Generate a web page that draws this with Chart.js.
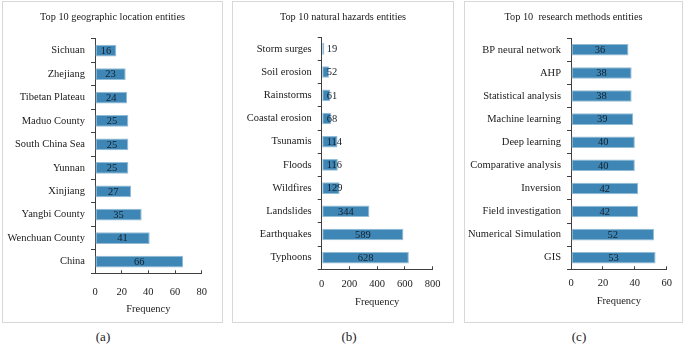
<!DOCTYPE html>
<html>
<head>
<meta charset="utf-8">
<script src="https://cdn.jsdelivr.net/npm/chart.js@4/dist/chart.umd.min.js"></script>
<style>
  html, body { margin: 0; padding: 0; background: #fff; }
  body { width: 685px; height: 347px; position: relative; overflow: hidden; }
  .frame { position: absolute; box-sizing: border-box; border: 1px solid #d8d8d8; }
  .box { position: absolute; }
  .cap { position: absolute; top: 329px; font: 13px "Liberation Serif", serif; color: #1a1a1a; transform: translateX(-50%); }
</style>
</head>
<body>
<div class="frame" style="left:2px;top:1px;width:221px;height:322px"></div>
<div class="frame" style="left:232px;top:1px;width:222px;height:322px"></div>
<div class="frame" style="left:464px;top:1px;width:219px;height:322px"></div>
<div class="box" style="left:2px;top:1px;width:221px;height:322px"><canvas id="chartA"></canvas></div>
<div class="box" style="left:232px;top:1px;width:222px;height:322px"><canvas id="chartB"></canvas></div>
<div class="box" style="left:464px;top:1px;width:219px;height:322px"><canvas id="chartC"></canvas></div>
<div class="cap" style="left:103px">(a)</div>
<div class="cap" style="left:349px">(b)</div>
<div class="cap" style="left:579px">(c)</div>
<script>
// (a) geographic locations
const locLabels = ['Sichuan', 'Zhejiang', 'Tibetan Plateau', 'Maduo County', 'South China Sea', 'Yunnan', 'Xinjiang', 'Yangbi County', 'Wenchuan County', 'China'];
const locValues = [16, 23, 24, 25, 25, 25, 27, 35, 41, 66];

// (b) natural hazards
const hazLabels = ['Storm surges', 'Soil erosion', 'Rainstorms', 'Coastal erosion', 'Tsunamis', 'Floods', 'Wildfires', 'Landslides', 'Earthquakes', 'Typhoons'];
const hazValues = [19, 52, 61, 68, 114, 116, 129, 344, 589, 628];

// (c) research methods
const methLabels = ['BP neural network', 'AHP', 'Statistical analysis', 'Machine learning', 'Deep learning', 'Comparative analysis', 'Inversion', 'Field investigation', 'Numerical Simulation', 'GIS'];
const methValues = [36, 38, 38, 39, 40, 40, 42, 42, 52, 53];

const FONT = '"Liberation Serif", "Times New Roman", serif';
const INK = '#1a1a1a';

// numbers on the bars, centred; pushed right of the axis when the bar is too short
const barValues = {
    id: 'barValues',
    afterDatasetsDraw(chart) {
        const { ctx, chartArea: { left } } = chart;
        const meta = chart.getDatasetMeta(0);
        const vals = chart.data.datasets[0].data;
        ctx.save();
        ctx.font = '10.5px ' + FONT;
        ctx.fillStyle = '#15202b';
        ctx.textAlign = 'center';
        ctx.textBaseline = 'middle';
        meta.data.forEach((bar, i) => {
            const txt = String(vals[i]);
            const w = ctx.measureText(txt).width;
            let cx = (bar.x + bar.base) / 2;
            cx = Math.max(cx, left + 5 + w / 2);
            ctx.fillText(txt, cx, bar.y + 0.5);
        });
        ctx.restore();
    }
};

function makeChart(id, title, labels, values, max, step, g) {
    return new Chart(document.getElementById(id), {
        type: 'bar',
        data: {
            labels: labels,
            datasets: [{
                data: values,
                backgroundColor: '#3D86B5',
                borderColor: '#93BCD6',
                borderWidth: 1,
                borderSkipped: false,
                barPercentage: 0.5,
                categoryPercentage: 1
            }]
        },
        options: {
            indexAxis: 'y',
            responsive: true,
            maintainAspectRatio: false,
            devicePixelRatio: 1,
            animation: false,
            layout: { padding: 0 },
            scales: {
                x: {
                    min: 0,
                    max: max,
                    ticks: { stepSize: step, color: INK, font: { family: FONT, size: 10.5 }, padding: g.tickPad },
                    grid: { drawOnChartArea: false, drawTicks: true, tickLength: -3, color: '#404040' },
                    border: { display: true, color: '#404040', width: 1 },
                    title: { display: true, text: 'Frequency', color: INK, font: { family: FONT, size: 10.5 }, padding: { top: 0, bottom: g.freqPad } },
                    afterFit: s => { s.height = g.xH; }
                },
                y: {
                    ticks: { color: INK, font: { family: FONT, size: 10.5 }, padding: 6 },
                    grid: { drawOnChartArea: false, drawTicks: true, tickLength: 4, offset: true, color: '#404040' },
                    border: { display: true, color: '#404040', width: 1 },
                    afterFit: s => { s.width = g.yW; }
                },
                // empty spacer on the right so the title stays centred on the panel
                spacer: {
                    type: 'category',
                    axis: 'y',
                    position: 'right',
                    ticks: { display: false },
                    grid: { display: false },
                    border: { display: false },
                    afterFit: s => { s.width = g.rW; }
                }
            },
            plugins: {
                legend: { display: false },
                tooltip: { enabled: false },
                title: {
                    display: true,
                    text: title,
                    color: INK,
                    font: { family: FONT, size: 10.3, weight: 'normal' },
                    padding: { top: g.tTop, bottom: g.tBot }
                }
            }
        },
        plugins: [barValues]
    });
}

makeChart('chartA', 'Top 10 geographic location entities', locLabels, locValues, 80, 20,
    { yW: 93, rW: 21.3, xH: 49.7, tickPad: 15.5, freqPad: 7.8, tTop: 9.8, tBot: 15.8 });
makeChart('chartB', 'Top 10 natural hazards entities', hazLabels, hazValues, 800, 200,
    { yW: 89.7, rW: 21.3, xH: 53.7, tickPad: 12, freqPad: 14.8, tTop: 9.8, tBot: 14.1 });
makeChart('chartC', 'Top 10  research methods entities', methLabels, methValues, 60, 20,
    { yW: 107, rW: 11.3, xH: 53.7, tickPad: 11, freqPad: 15.8, tTop: 10.1, tBot: 14.8 });
</script>
</body>
</html>
